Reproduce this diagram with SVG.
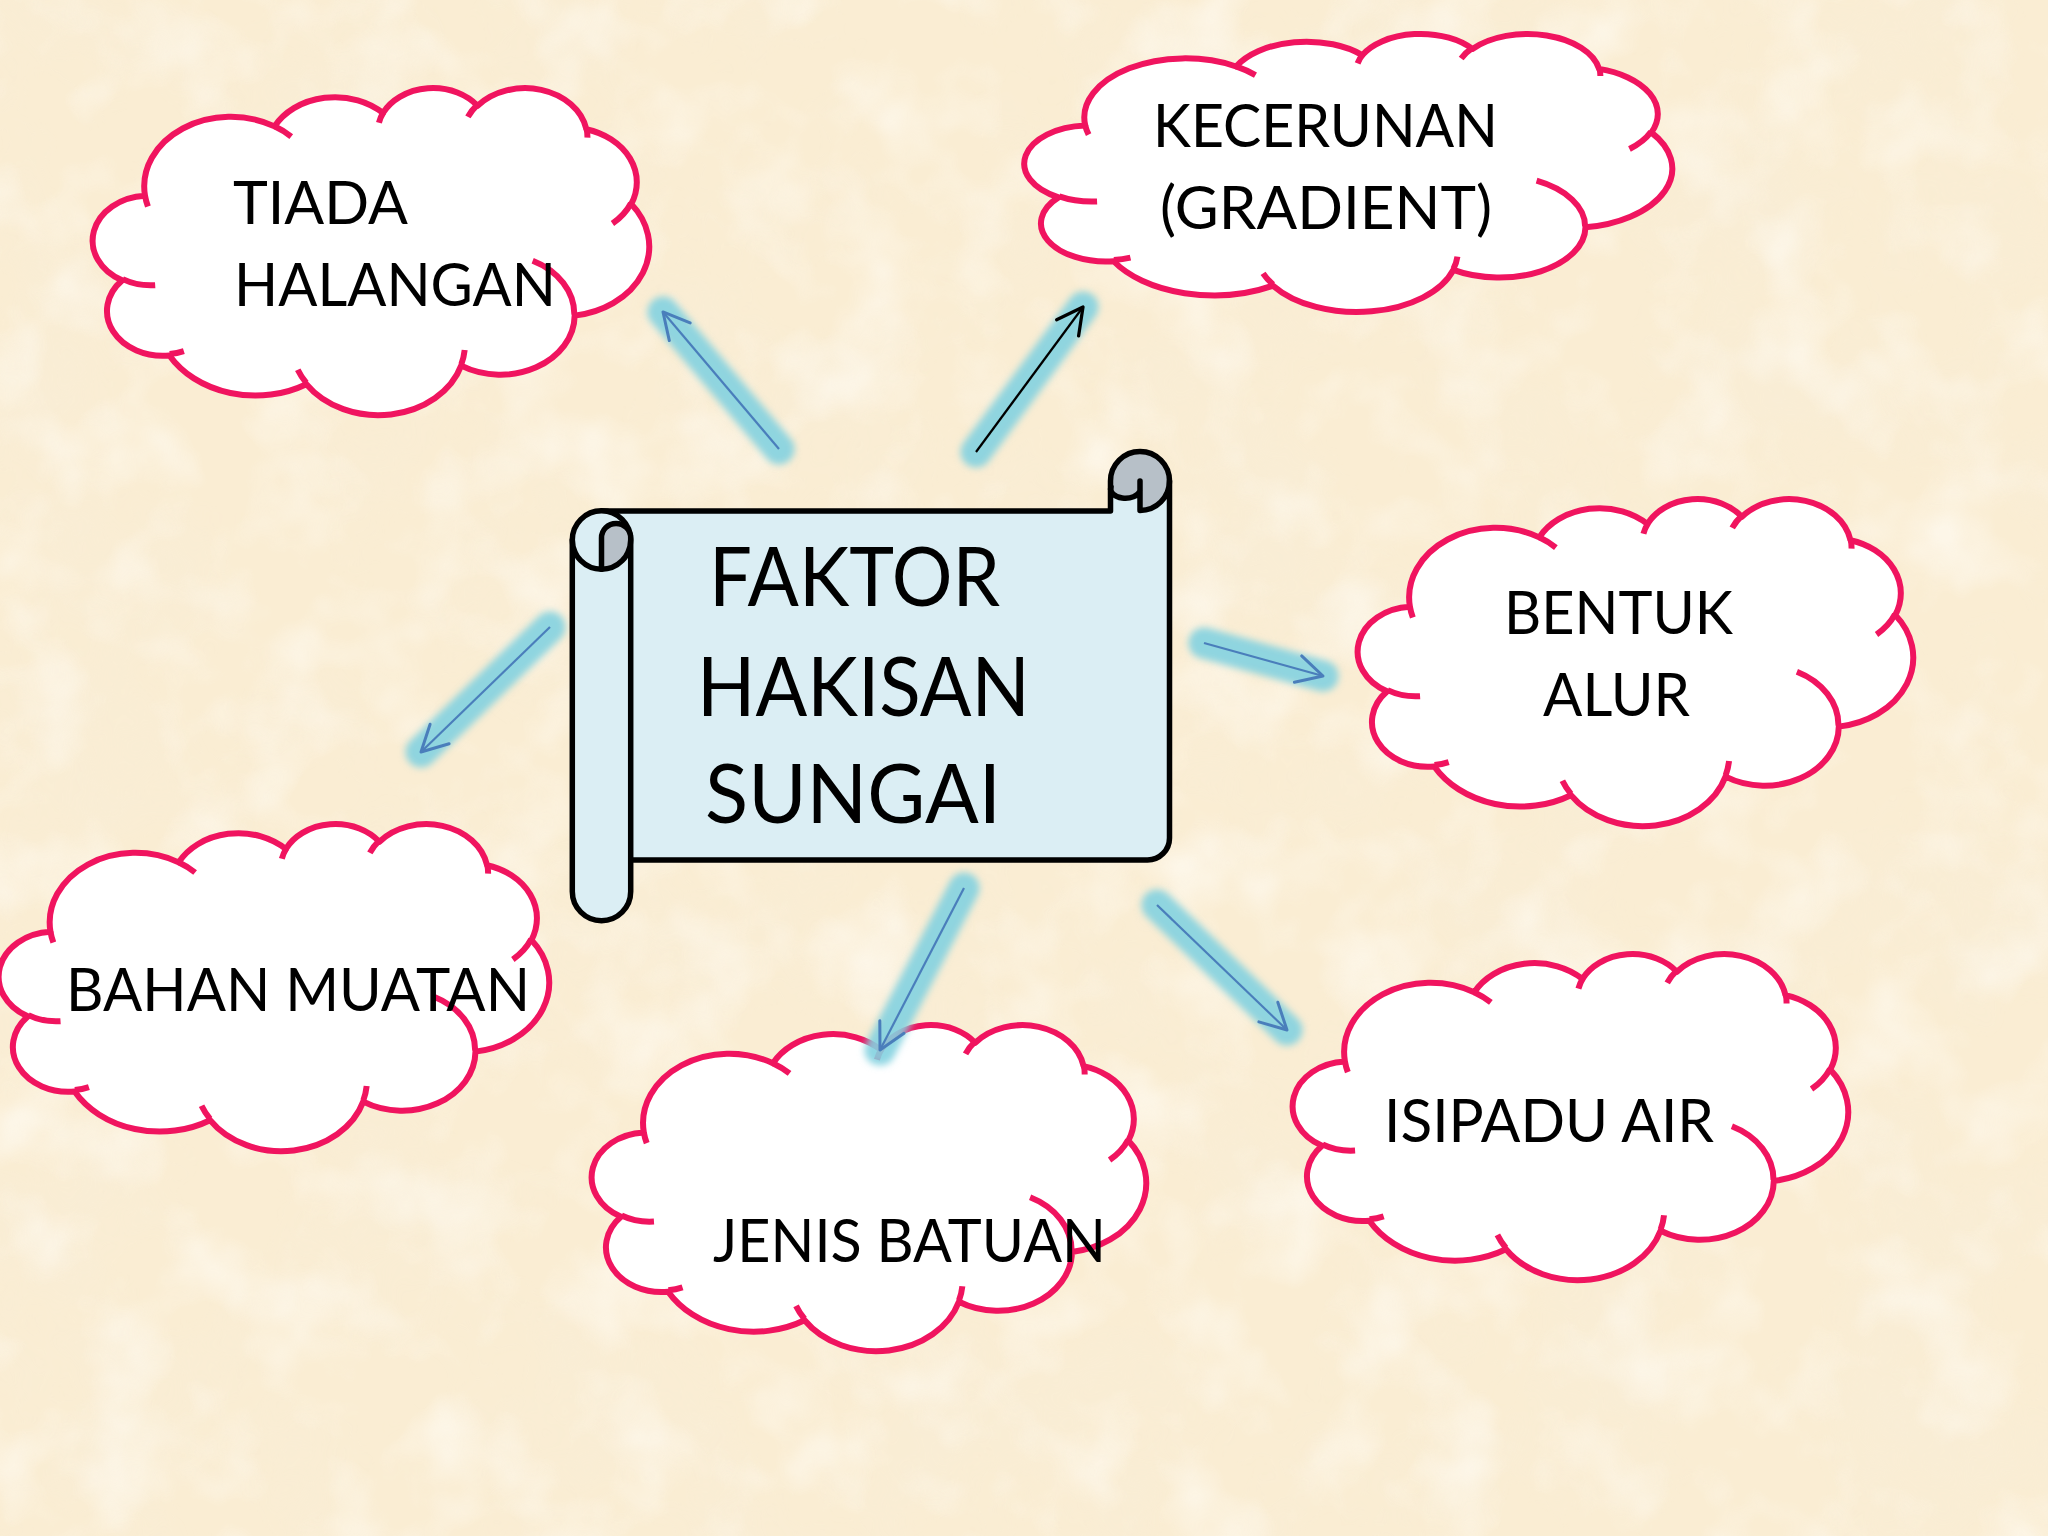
<svg xmlns="http://www.w3.org/2000/svg" xmlns:xlink="http://www.w3.org/1999/xlink" width="2048" height="1536" viewBox="0 0 2048 1536">
<style>
.bg{fill:#faedd3}
.cl{fill:#fff;stroke:#f0145f;stroke-width:6;stroke-linejoin:round}
.ca{fill:none;stroke:#f0145f;stroke-width:6;stroke-linecap:butt}
.lbl{font-family:Lato,"Open Sans","Liberation Sans",sans-serif;font-size:60px;fill:#000}
.ttl{font-size:81px}
.glow{fill:none;stroke:#83d1e0;stroke-width:31;stroke-linecap:round;opacity:.9}
.lnb{fill:none;stroke:#4a7ebb;stroke-width:2.2}
.lnk{fill:none;stroke:#000;stroke-width:2.2}
.sk{stroke:#000;stroke-width:5.5;stroke-linejoin:round;stroke-linecap:round}
.sheet{fill:#dbeef4}
.grey{fill:#b7c0c8}
</style>
<defs>
<filter id="paper" filterUnits="userSpaceOnUse" x="0" y="0" width="2048" height="1536">
<feTurbulence type="fractalNoise" baseFrequency="0.006" numOctaves="4" seed="7"/>
<feColorMatrix type="matrix" values="0 0 0 0 0.93  0 0 0 0 0.85  0 0 0 0 0.70  2.2 0 0 0 -0.95"/>
</filter>
<filter id="paper2" filterUnits="userSpaceOnUse" x="0" y="0" width="2048" height="1536">
<feTurbulence type="fractalNoise" baseFrequency="0.012" numOctaves="3" seed="21"/>
<feColorMatrix type="matrix" values="0 0 0 0 1  0 0 0 0 0.98  0 0 0 0 0.93  0 2.2 0 0 -1.0"/>
</filter>
<filter id="blur" x="-50%" y="-50%" width="200%" height="200%">
<feGaussianBlur stdDeviation="3.5"/>
</filter>
<marker id="ahb" markerUnits="userSpaceOnUse" markerWidth="30" markerHeight="30" viewBox="0 0 22 22" refX="20" refY="11" orient="auto" overflow="visible">
<path d="M1,1 L20,11 L1,21" fill="none" stroke="#4a7ebb" stroke-width="2.2" stroke-linecap="round" stroke-linejoin="round"/>
</marker>
<marker id="ahk" markerUnits="userSpaceOnUse" markerWidth="30" markerHeight="30" viewBox="0 0 22 22" refX="20" refY="11" orient="auto" overflow="visible">
<path d="M1,1 L20,11 L1,21" fill="none" stroke="#000" stroke-width="2.4" stroke-linecap="round" stroke-linejoin="round"/>
</marker>
<g id="cloud">
<path class="cl" vector-effect="non-scaling-stroke" d="M39,143.7 A67.53,91.9 0 0 1 140.04,52.01 A53.33,72.67 0 0 1 224.55,34.32 A43.65,59.45 0 0 1 298.32,24.81 A48.57,65.95 0 0 1 383.17,55.77 A53.33,72.73 0 0 1 418.18,154.61 A67.75,92.2 0 0 1 374.03,302.03 A57.85,78.67 0 0 1 285.54,368.13 A67.52,92.15 0 0 1 164.79,392.64 A77.2,105.43 0 0 1 58.04,354.7 A43.6,59.18 0 0 1 21.12,255.48 A43.45,59.45 0 0 1 39,143.7 Z"/>
<path class="ca" vector-effect="non-scaling-stroke" d="M46.93,261.77 A43.45,59.45 0 0 1 21.58,253.79 M69.28,348.99 A43.6,59.18 0 0 1 58.19,352.81 M164.78,390.9 A67.52,92.15 0 0 1 158.1,373.5 M288.27,347.51 A67.52,92.15 0 0 1 285.6,366.6 M341.29,229.54 A57.85,78.67 0 0 1 373.79,300.89 M417.98,153.54 A53.33,72.73 0 0 1 403.5,180.29 M383.24,54.26 A48.57,65.95 0 0 1 384,66.89 M290.78,39.52 A48.57,65.95 0 0 1 298.2,23.39 M221.41,47.2 A43.65,59.45 0 0 1 225,33.3 M140,51.92 A67.53,91.9 0 0 1 153.02,65.42 M41.27,157.89 A67.53,91.9 0 0 1 39,143.7"/>
</g>
</defs>

<rect class="bg" x="0" y="0" width="2048" height="1536"/>
<rect x="0" y="0" width="2048" height="1536" filter="url(#paper)" opacity="0.4"/>
<rect x="0" y="0" width="2048" height="1536" filter="url(#paper2)" opacity="0.6"/>

<g id="node-tiada">
<use href="#cloud" transform="translate(95,87) scale(1.2824,0.7569)"/>
<text class="lbl" x="233" y="224" textLength="175" lengthAdjust="spacingAndGlyphs">TIADA</text>
<text class="lbl" x="234" y="306" textLength="322" lengthAdjust="spacingAndGlyphs">HALANGAN</text>
</g>

<g id="node-kecerunan">
<use href="#cloud" transform="translate(1027,33) scale(1.4931,0.6435)"/>
<text class="lbl" x="1153" y="147" textLength="345" lengthAdjust="spacingAndGlyphs">KECERUNAN</text>
<text class="lbl" x="1160" y="229" textLength="332" lengthAdjust="spacingAndGlyphs">(GRADIENT)</text>
</g>

<g id="node-bentuk">
<use href="#cloud" transform="translate(1360,498) scale(1.2801,0.7569)"/>
<text class="lbl" x="1504" y="634" textLength="229" lengthAdjust="spacingAndGlyphs">BENTUK</text>
<text class="lbl" x="1543" y="716" textLength="147" lengthAdjust="spacingAndGlyphs">ALUR</text>
</g>

<g id="node-bahan">
<use href="#cloud" transform="translate(1,823) scale(1.2685,0.7569)"/>
<text class="lbl" x="66" y="1011" textLength="464" lengthAdjust="spacingAndGlyphs">BAHAN MUATAN</text>
</g>

<g id="node-jenis">
<use href="#cloud" transform="translate(594,1024) scale(1.2778,0.7546)"/>
<text class="lbl" x="713" y="1262" textLength="393" lengthAdjust="spacingAndGlyphs">JENIS BATUAN</text>
</g>

<g id="node-isipadu">
<use href="#cloud" transform="translate(1295,953) scale(1.2801,0.7546)"/>
<text class="lbl" x="1384" y="1142" textLength="330" lengthAdjust="spacingAndGlyphs">ISIPADU AIR</text>
</g>

<g id="connectors">
<g filter="url(#blur)">
<line class="glow" x1="779" y1="449" x2="663" y2="312"/>
<line class="glow" x1="976" y1="452" x2="1083" y2="307"/>
<line class="glow" x1="1204" y1="643" x2="1323" y2="676"/>
<line class="glow" x1="550" y1="627" x2="421" y2="752"/>
<line class="glow" x1="964" y1="888" x2="880" y2="1050"/>
<line class="glow" x1="1157" y1="905" x2="1287" y2="1030"/>
</g>
<line class="lnb" x1="779" y1="449" x2="663" y2="312" marker-end="url(#ahb)"/>
<line class="lnk" x1="976" y1="452" x2="1083" y2="307" marker-end="url(#ahk)"/>
<line class="lnb" x1="1204" y1="643" x2="1323" y2="676" marker-end="url(#ahb)"/>
<line class="lnb" x1="550" y1="627" x2="421" y2="752" marker-end="url(#ahb)"/>
<line class="lnb" x1="964" y1="888" x2="880" y2="1050" marker-end="url(#ahb)"/>
<line class="lnb" x1="1157" y1="905" x2="1287" y2="1030" marker-end="url(#ahb)"/>
</g>

<g id="node-faktor">
<path class="sheet" d="M601.5,511 H1110.5 V481 A29.5,29.5 0 0 1 1169.5,481 V838 A22,22 0 0 1 1147.5,860 H601.5 Z"/>
<path class="grey" d="M1110.5,481 A29.5,29.5 0 1 1 1140,510.5 V491 A14.5,9 0 0 1 1111,487 Z"/>
<path class="sk" fill="none" d="M601.5,511 H1110.5 V481 A29.5,29.5 0 0 1 1169.5,481 V838 A22,22 0 0 1 1147.5,860 H630"/>
<path class="sk" fill="none" d="M1169.5,481 A29.5,29.5 0 0 1 1140,510.5 M1140,510 V481 M1140,491 A14.5,9 0 0 1 1111,487"/>
<path class="sheet sk" d="M572.3,540 A29.2,29.2 0 0 1 630.7,540 V891.5 A29.2,29.2 0 0 1 572.3,891.5 Z"/>
<path class="grey sk" d="M601.5,569.2 V538 A14.6,14.6 0 0 1 630.7,538 V540 A29.2,29.2 0 0 1 601.5,569.2 Z"/>
<path class="sk" fill="none" d="M572.3,540 A29.2,29.2 0 0 0 601.5,569.2"/>
<text class="lbl ttl" x="709" y="606" textLength="291" lengthAdjust="spacingAndGlyphs">FAKTOR</text>
<text class="lbl ttl" x="697" y="716" textLength="333" lengthAdjust="spacingAndGlyphs">HAKISAN</text>
<text class="lbl ttl" x="705" y="823" textLength="296" lengthAdjust="spacingAndGlyphs">SUNGAI</text>
</g>
</svg>
